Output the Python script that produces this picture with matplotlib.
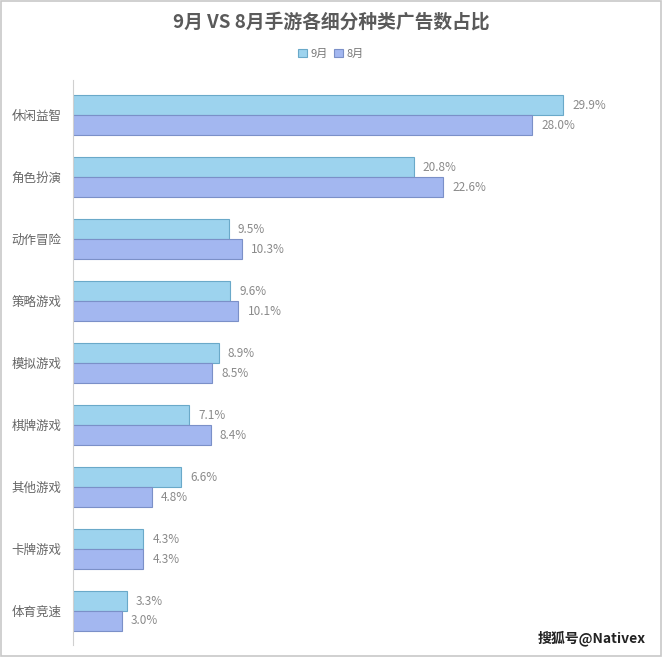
import numpy as np
import matplotlib.pyplot as plt
from matplotlib.patches import Rectangle

plt.rcParams['font.family'] = ['Noto Sans CJK SC', 'DejaVu Sans']

# 数据
categories = ['休闲益智', '角色扮演', '动作冒险', '策略游戏', '模拟游戏', '棋牌游戏', '其他游戏', '卡牌游戏', '体育竞速']
sep = [29.9, 20.8, 9.5, 9.6, 8.9, 7.1, 6.6, 4.3, 3.3]
aug = [28.0, 22.6, 10.3, 10.1, 8.5, 8.4, 4.8, 4.3, 3.0]
series_names = ['9月', '8月']

fig = plt.figure(figsize=(6.62, 6.57), dpi=100)
ax = fig.add_axes([0.110, 0.018, 0.867, 0.860])

y = np.arange(len(categories))
h = 0.32
b1 = ax.barh(y - h / 2, sep, height=h, color='#9dd3ee', edgecolor='#6aa9c9', linewidth=0.8, label=series_names[0])
b2 = ax.barh(y + h / 2, aug, height=h, color='#a3b7f0', edgecolor='#7b90c8', linewidth=0.8, label=series_names[1])

# 数值标签
for bars, vals in [(b1, sep), (b2, aug)]:
    for bar, v in zip(bars, vals):
        ax.text(bar.get_width() + 0.55, bar.get_y() + bar.get_height() / 2, f'{v:.1f}%',
                va='center', ha='left', fontsize=8.5, color='#8a8a8a')

ax.set_xlim(0, 35)
ax.set_ylim(8.55, -0.565)
ax.set_yticks(y)
ax.set_yticklabels(categories, fontsize=9, color='#666666')
ax.tick_params(axis='y', length=0, pad=8)
ax.set_xticks([])
for s in ['top', 'right', 'bottom']:
    ax.spines[s].set_visible(False)
ax.spines['left'].set_color('#d0d0d0')
ax.spines['left'].set_linewidth(0.8)

# 标题和图例
fig.text(0.5, 0.967, '9月 VS 8月手游各细分种类广告数占比', ha='center', va='center',
         fontsize=13.5, fontweight='bold', color='#5a5a5a')
fig.legend(handles=[b1, b2], loc='center', bbox_to_anchor=(0.5, 0.918), ncol=2,
           frameon=False, fontsize=8, labelcolor='#777777', handlelength=0.8,
           handleheight=0.8, handletextpad=0.3, columnspacing=0.6)

fig.text(0.975, 0.028, '搜狐号@Nativex', ha='right', va='center', fontsize=10,
         color='#222222', fontweight='bold')

fig.patches.append(Rectangle((0.002, 0.002), 0.996, 0.996, transform=fig.transFigure,
                             fill=False, edgecolor='#c8c8c8', linewidth=1.2))

plt.savefig('out.png', dpi=100)
